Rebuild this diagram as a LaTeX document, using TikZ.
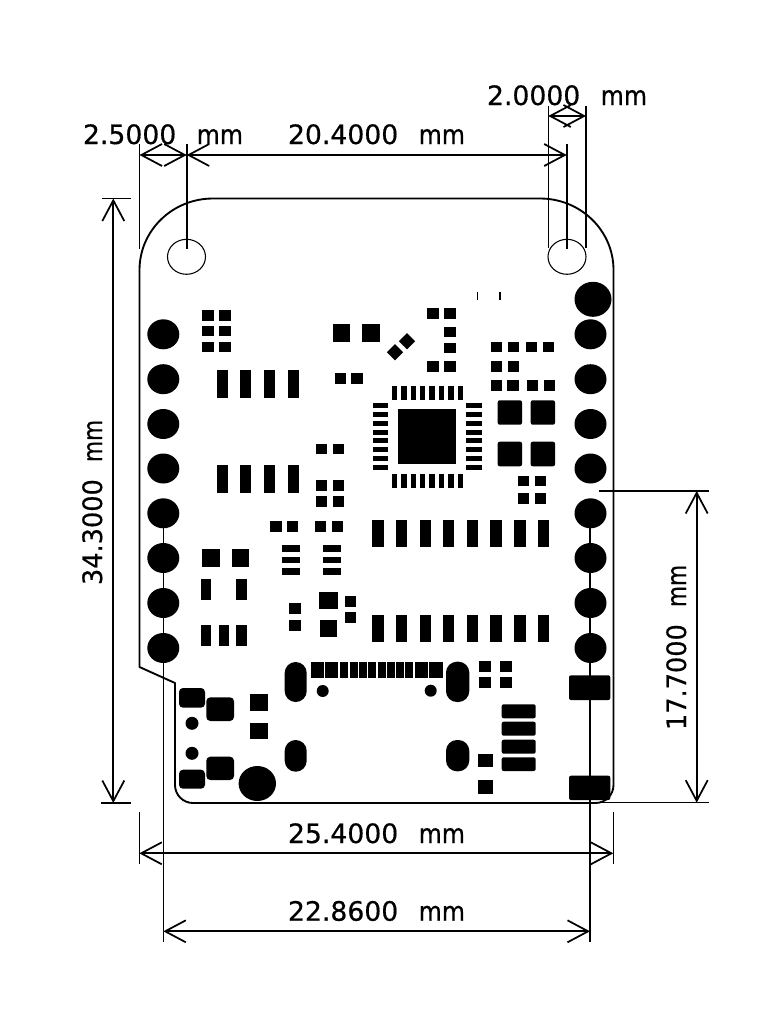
\documentclass[tikz,border=0pt]{standalone}
\usepackage{fontspec}
\setmainfont[RawFeature={embolden=0.5}]{DejaVu Sans}
\usetikzlibrary{arrows.meta}

\newcommand{\dimtext}[1]{\fontsize{20}{20}\selectfont #1 \hspace{9pt}\scalebox{.89}[1]{mm}}
\newcommand{\dimtextv}[1]{\fontsize{20}{20}\selectfont \scalebox{.96}[1]{#1} \hspace{6.5pt}\scalebox{.81}[1]{mm}}

\tikzset{
  outline/.style={line width=1.4pt,line join=round},
  extline/.style={line width=1.1pt},
  dimline/.style={line width=1.3pt,{Straight Barb[length=15.5pt,width=16.5pt,line width=1.3pt]}-{Straight Barb[length=15.5pt,width=16.5pt,line width=1.3pt]}},
  dimlabel/.style={anchor=base west,inner sep=0pt,outer sep=0pt},
  softpad/.style={rounded corners=1.5pt},
  softbig/.style={rounded corners=3pt},
  softsquare/.style={rounded corners=1.5pt}
}

\begin{document}
\begin{tikzpicture}[x=.75pt,y=-.75pt]
\useasboundingbox (0,0) rectangle (768,1024);

% board edge
\draw[outline] (139.5,667) -- (139.5,270) arc (180:270:73.5 and 71.5) -- (540,198.5)
  arc (270:360:73.5 and 71.5) -- (613.5,785) arc (0:90:18) -- (193,803) arc (90:180:18)
  -- (175,683) -- cycle;

% holes
\draw[extline,line width=.8pt] (186.5,256.8) ellipse (19 and 17.5);
\draw[extline,line width=.8pt] (567,256.8) ellipse (19 and 17.5);

% header pads
\foreach \y in {334.3,379.2,424,468.5,513.3,558,603,648} {
  \fill (163.3,\y) ellipse (16 and 15);
  \fill (590.5,\y) ellipse (16 and 15);
}
\fill (593,299.3) ellipse (18.5 and 17.5);
\fill (257.3,783.5) ellipse (18.7 and 17.5);

% small dots
\fill (322.7,691) circle (6);
\fill (430.7,690.7) circle (6);
\fill (192,723.3) circle (6.5);
\fill (192,753.3) circle (6.5);

% plain pads
\foreach \xa/\ya/\xb/\yb in {
  202.3/310/214/320.7, 219/310/230.7/320.7,
  202.3/325.7/214/336.3, 219/325.7/230.7/336.3,
  202.3/341.7/214/352.3, 219/341.7/230.7/352.3,
  332.7/324.3/350/341.7, 362.3/324.3/380/341.7,
  335/373.3/346/384, 351.3/373.3/362.7/384,
  476.5/292/478.3/300, 498.7/292/501.3/300,
  427/308.3/438.7/319, 444/308.3/455.7/319,
  444/326.7/455.7/337.3, 444/342.7/455.7/353.3,
  427/360.7/438.7/371.7, 444/360.7/455.7/371.7,
  490.7/341.7/502/352.3, 507.7/341.7/519/352.3, 526/341.7/537.3/352.3, 543/341.7/554/352.3,
  490.7/360.7/502/371.7, 507.7/360.7/519/371.7,
  490.7/380.3/502.3/391.3, 507.3/380.3/519/391.3, 527/380.3/538.3/391.3, 543.7/380.3/555/391.3,
  397.7/409.3/456.3/464.3,
  517.7/475.7/529/486, 534.7/475.7/546/486,
  517.7/493/529/503.7, 534.7/493/546/503.7,
  316/443.7/327.3/454.3, 332.7/443.7/344/454.3,
  316/480.3/327.3/491, 332.7/480.3/344/491,
  316/496.3/327.3/507, 332.7/496.3/344/507,
  270.3/521.3/281.7/532, 287/521.3/298.3/532,
  315/521.3/326.3/532, 331.7/521.3/343/532,
  282.3/545/300/552, 282.3/556.7/300/563.3, 282.3/568/300/574.7,
  323/545/341/552, 323/556.7/341/563.3, 323/568/341/574.7,
  201.7/549.3/219.7/567, 231.7/549.3/249.3/567,
  201/579.3/211/600.3, 236.3/579.3/246.7/600.3,
  201/625.3/211/646, 218.7/625.3/229/646, 236.3/625.3/246.7/646,
  289/603.3/300.7/614.3, 289/619.7/300.7/630.7,
  319/592.3/337.7/608.7, 320.3/620.3/337/637,
  345/595.7/356.3/606.7, 345/611.7/356.3/622.7,
  311/661.7/324.3/677.7, 324.7/661.7/338/677.7,
  415/661.7/428.3/677.7, 429/661.7/443/677.7,
  479.3/661/490.7/671.7, 500/661/511.7/671.7,
  479.3/677/490.7/687.7, 500/677/511.7/687.7,
  250/694/268.3/711, 250/722.7/268.3/739.3,
  477.7/753.7/492.7/767.3, 477.7/780/492.7/793.7
} {
  \fill (\xa,\ya) rectangle (\xb,\yb);
}

% tall pads
\foreach \x in {216.5,240,263.8,287.5} {
  \fill (\x,370) rectangle ++(11.4,28);
  \fill (\x,465) rectangle ++(11.4,27.7);
}
\foreach \x in {372.2,395.7,419.7,443,467,490.3,514.3,538} {
  \fill (\x,520) rectangle ++(11.4,27);
  \fill (\x,614.7) rectangle ++(11.4,27.6);
}

% chip pins
\foreach \i in {0,...,7} {
  \fill (391.7+9.43*\i,385.7) rectangle ++(5.5,14);
  \fill (391.7+9.43*\i,473.7) rectangle ++(5.5,14);
  \fill (373,403.2+8.8*\i) rectangle ++(15.3,4.9);
  \fill (466.3,403.2+8.8*\i) rectangle ++(15.4,4.9);
}

% connector pins
\foreach \i in {0,...,7} {
  \fill (340.3+9.3*\i,661.7) rectangle ++(8,16);
}

% turned pads
\fill[rotate around={45:(407,341.3)}] (401.3,335.6) rectangle (412.7,347);
\fill[rotate around={45:(395,352.3)}] (389.3,346.6) rectangle (400.7,358);

% rounded pads
\foreach \xa/\ya/\xb/\yb in {
  569/675.3/610.3/700, 569/775.7/610.3/800,
  501.7/704.3/535.7/718.3, 501.7/721.7/535.7/735.7,
  501.7/739.7/535.7/753.7, 501.7/757.3/535.7/771
} {
  \fill[softpad] (\xa,\ya) rectangle (\xb,\yb);
}
\foreach \xa/\ya/\xb/\yb in {
  497.7/400.3/522/424.7, 530.7/400.3/555/424.7,
  497.7/441.7/522/466.3, 530.7/441.7/555/466.3
} {
  \fill[softsquare] (\xa,\ya) rectangle (\xb,\yb);
}
\foreach \xa/\ya/\xb/\yb in {
  179/688/205/707.7, 179/769.7/205/788.7,
  206.3/697.3/234/721, 206.3/756.7/234/780
} {
  \fill[softbig] (\xa,\ya) rectangle (\xb,\yb);
}

% oval pads
\foreach \xa/\ya/\xb/\yb in {
  284.7/662/306.7/702, 284.7/740/306.7/771.7,
  446/661.7/469.3/702, 446/740/469.3/771.3
} {
  \fill[rounded corners=8.2pt] (\xa,\ya) rectangle (\xb,\yb);
}

% extension lines
\draw[extline] (139.5,144) -- (139.5,249);
\draw[extline,line width=1.4pt] (186.7,144) -- (186.7,249);
\draw[extline,line width=1.4pt] (566.7,144) -- (566.7,249);
\draw[extline] (548.3,105.7) -- (548.3,248);
\draw[extline] (586,105.7) -- (586,248);
\draw[extline] (102,198.5) -- (131,198.5);
\draw[extline] (101,803) -- (131,803);
\draw[extline] (598.7,491) -- (708.7,491);
\draw[extline] (590,802.7) -- (708.7,802.7);
\draw[extline] (139.3,811.7) -- (139.3,864);
\draw[extline] (613.3,811.7) -- (613.3,864);
\draw[extline] (163.3,513) -- (163.3,941.7);
\draw[extline] (590,513) -- (590,941.7);

% dimension lines
\draw[dimline] (139.5,155) -- (186.7,155);
\draw[dimline] (186.7,155) -- (566.7,155);
\draw[dimline] (548.3,116) -- (586,116);
\draw[dimline] (113.3,198.5) -- (113.3,803);
\draw[dimline] (696.7,491) -- (696.7,802.7);
\draw[dimline] (139.3,853.3) -- (613.3,853.3);
\draw[dimline] (163.3,931.3) -- (590,931.3);

% labels
\node[dimlabel] (wallA) at (83,144) {\dimtext{2.5000}};
\node[dimlabel] (holes) at (288,144) {\dimtext{20.4000}};
\node[dimlabel] (drill) at (487,105) {\dimtext{2.0000}};
\node[dimlabel] (boardw) at (288,843) {\dimtext{25.4000}};
\node[dimlabel] (padsw) at (288,920.7) {\dimtext{22.8600}};
\node[dimlabel,rotate=90] (boardh) at (102,585) {\dimtextv{34.3000}};
\node[dimlabel,rotate=90] (padsh) at (686,730) {\dimtextv{17.7000}};
\end{tikzpicture}
\end{document}
